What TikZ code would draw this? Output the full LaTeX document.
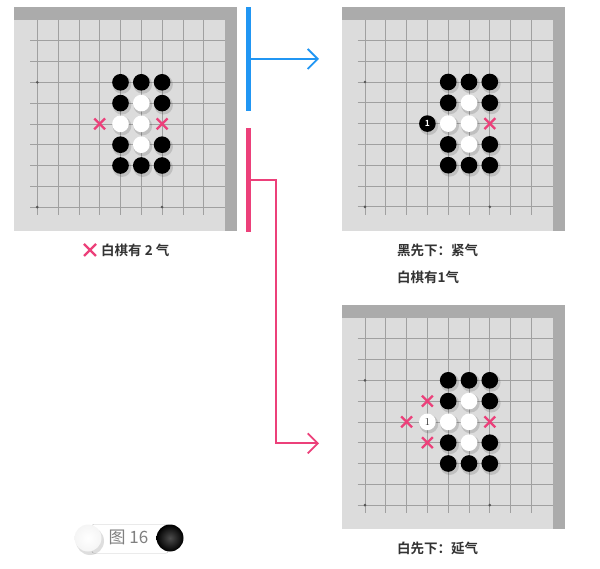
\documentclass[tikz,border=0pt]{standalone}
\usepackage{fontspec}
\newfontfamily\cjk{Noto Sans CJK SC}[BoldFont={Noto Sans CJK SC Bold}]
\usetikzlibrary{arrows.meta,positioning}

\definecolor{boardgray}{HTML}{DCDCDC}
\definecolor{edgegray}{HTML}{ABABAB}
\definecolor{gridgray}{HTML}{A0A0A0}
\definecolor{hoshigray}{HTML}{555555}
\definecolor{goblue}{HTML}{2196F3}
\definecolor{gopink}{HTML}{EC407A}
\definecolor{txtgray}{HTML}{333333}

\tikzset{
  onboard/.style 2 args={shift={(#1+23.3,#2+33.7)},x=20.8pt,y=-20.8pt},
  gridline/.style={draw=gridgray,line width=0.65pt},
  hoshi/.style={fill=hoshigray},
  stoneshadow/.style={fill=black,opacity=0.13},
  bstone/.style={fill=black},
  wstone/.style={fill=white},
  libx/.style={draw=gopink,line width=2.3pt},
  caption/.style={anchor=west,inner sep=0,text=txtgray,font=\cjk\bfseries\fontsize{13.5}{14}\selectfont},
  link/.style={line width=1.8pt,-{Straight Barb[length=10pt,width=20pt]}}
}

% board corner with grid, edges and star points
\newcommand{\goboard}[3]{%
  \node[fill=boardgray,inner sep=0,minimum width=223pt,minimum height=224pt,anchor=north west] (#1) at (#2,#3) {};
  \begin{scope}[onboard={#2}{#3}]
    \foreach \i in {0,...,8} {
      \draw[gridline] (\i,-1) -- (\i,8.38);
      \draw[gridline] (-0.35,\i) -- (9.02,\i);
    }
    \fill[edgegray] (-1.12,-1.62) rectangle (9.6,-1);
    \fill[edgegray] (9.02,-1.62) rectangle (9.6,9.15);
    \foreach \c/\r in {0/2,0/8,6/8} \fill[hoshi] (\c,\r) circle (0.07);
  \end{scope}}

% the surrounded white group
\newcommand{\whitegroup}{%
  \foreach \c/\r in {4/2,5/2,6/2,4/3,6/3,4/5,6/5,4/6,5/6,6/6} {
    \fill[stoneshadow] (\c+0.07,\r+0.1) circle (0.45);
    \fill[bstone] (\c,\r) circle (0.4);
  }
  \foreach \c/\r in {5/3,4/4,5/4,5/5} {
    \fill[stoneshadow] (\c+0.07,\r+0.1) circle (0.45);
    \fill[wstone] (\c,\r) circle (0.4);
  }}

\newcommand{\libcross}[2]{\draw[libx] (#1,#2) +(-0.26,-0.26) -- +(0.26,0.26) +(-0.26,0.26) -- +(0.26,-0.26);}

\begin{document}
\begin{tikzpicture}[x=1pt,y=-1pt]
  \useasboundingbox (0,0) rectangle (600,569);

  % left board: 2 liberties
  \goboard{boardA}{14}{7}
  \begin{scope}[onboard={14}{7}]
    \whitegroup
    \libcross{3}{4}
    \libcross{6}{4}
  \end{scope}
  \draw[libx] (90,250) +(-6,-6) -- +(6,6) +(-6,6) -- +(6,-6);
  \node[caption] (capA) at (101,250) {白棋有 2 气};

  % black to play
  \goboard{boardB}{341.7}{6.7}
  \begin{scope}[onboard={341.7}{6.7}]
    \whitegroup
    \fill[stoneshadow] (3.07,4.1) circle (0.45);
    \node[bstone,circle,inner sep=0,minimum size=16.6pt,text=white,font=\cjk\bfseries\fontsize{8.5}{8.5}\selectfont] (moveB) at (3,4) {1};
    \libcross{6}{4}
  \end{scope}
  \node[caption] (capB) at (397,250.5) {黑先下：紧气};
  \node[caption] (capB2) at (397,277.5) {白棋有1气};

  % white to play
  \goboard{boardC}{341.7}{305}
  \begin{scope}[onboard={341.7}{305}]
    \whitegroup
    \fill[stoneshadow] (3.07,4.1) circle (0.45);
    \node[wstone,circle,inner sep=0,minimum size=16.6pt,text=txtgray,font=\fontsize{10.5}{10.5}\selectfont] (moveC) at (3,4) {1};
    \libcross{3}{3}
    \libcross{2}{4}
    \libcross{3}{5}
    \libcross{6}{4}
  \end{scope}
  \node[caption] (capC) at (397,548) {白先下：延气};

  % branches
  \node[fill=goblue,inner sep=0,minimum width=5pt,minimum height=104pt] (barA) at (248.5,59) {};
  \node[fill=gopink,inner sep=0,minimum width=5pt,minimum height=104pt] (barB) at (248.5,180) {};
  \coordinate (tipA) at (319,59);
  \coordinate (tipB) at (319,443.3);
  \draw[link,goblue] (barA.east) -- (tipA);
  \draw[link,gopink] (barB.east) -- ++(25,0) |- (tipB);

  % figure tag
  \node[draw=gray!45,fill=white,rounded corners=2pt,inner sep=0,minimum width=76pt,minimum height=29pt] (tagbox) at (130,538.7) {};
  \node[inner sep=0,text=gray,font=\cjk\fontsize{17}{17}\selectfont] (tagtext) at (128.5,537.5) {图 16};
  \fill[stoneshadow] (90,541) circle (14);
  \node[circle,inner sep=0,minimum size=27pt,inner color=white,outer color=gray!8] (tagw) at (88,538) {};
  \node[circle,inner sep=0,minimum size=27pt,inner color=black!70,outer color=black] (tagb) at (170,538) {};
\end{tikzpicture}
\end{document}
